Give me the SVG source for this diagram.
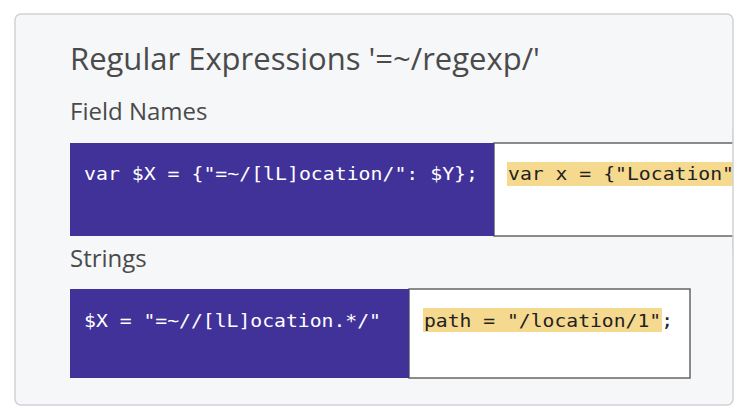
<svg xmlns="http://www.w3.org/2000/svg" width="746" height="418" viewBox="0 0 746 418">
<style>
.h{font-family:"Open Sans","Noto Sans",sans-serif;fill:#4a4a4a}
.m{font-family:"DejaVu Sans Mono","Liberation Mono",monospace;font-size:17px}
.p{fill:#41329a}
.w{fill:#fff;stroke:#666;stroke-width:1.5}
.hl{fill:#f5d98f}
</style>
<rect width="746" height="418" fill="#fff"/>
<rect x="15" y="14" width="718" height="391" rx="6" fill="#f6f7f9" stroke="#cfd2d6" stroke-width="1.5"/>
<text class="h" x="70" y="70" font-size="31">Regular Expressions '=~/regexp/'</text>
<text class="h" x="70" y="120" font-size="24">Field Names</text>
<g id="field">
<rect class="w" x="494" y="143" width="245" height="93"/>
<rect class="p" x="70" y="143" width="424" height="93"/>
<rect class="hl" x="507" y="162" width="226" height="24"/>
<text class="m" x="84" y="180" fill="#fff" textLength="394" lengthAdjust="spacingAndGlyphs">var $X = {"=~/[lL]ocation/": $Y};</text>
<text class="m" x="508" y="180" fill="#222" textLength="226" lengthAdjust="spacingAndGlyphs">var x = {"Location"</text>
</g>
<rect x="733" y="130" width="13" height="120" fill="#fff"/>
<line x1="733" y1="130" x2="733" y2="250" stroke="#cfd2d6" stroke-width="1.5"/>
<text class="h" x="70" y="267" font-size="24">Strings</text>
<g id="strings">
<rect class="w" x="409" y="289" width="281" height="89"/>
<rect class="p" x="70" y="289" width="339" height="89"/>
<rect class="hl" x="423" y="308" width="239" height="24"/>
<text class="m" x="84" y="327" fill="#fff" textLength="297" lengthAdjust="spacingAndGlyphs">$X = "=~//[lL]ocation.*/"</text>
<text class="m" x="424" y="327" fill="#222" textLength="249" lengthAdjust="spacingAndGlyphs">path = "/location/1";</text>
</g>
</svg>
